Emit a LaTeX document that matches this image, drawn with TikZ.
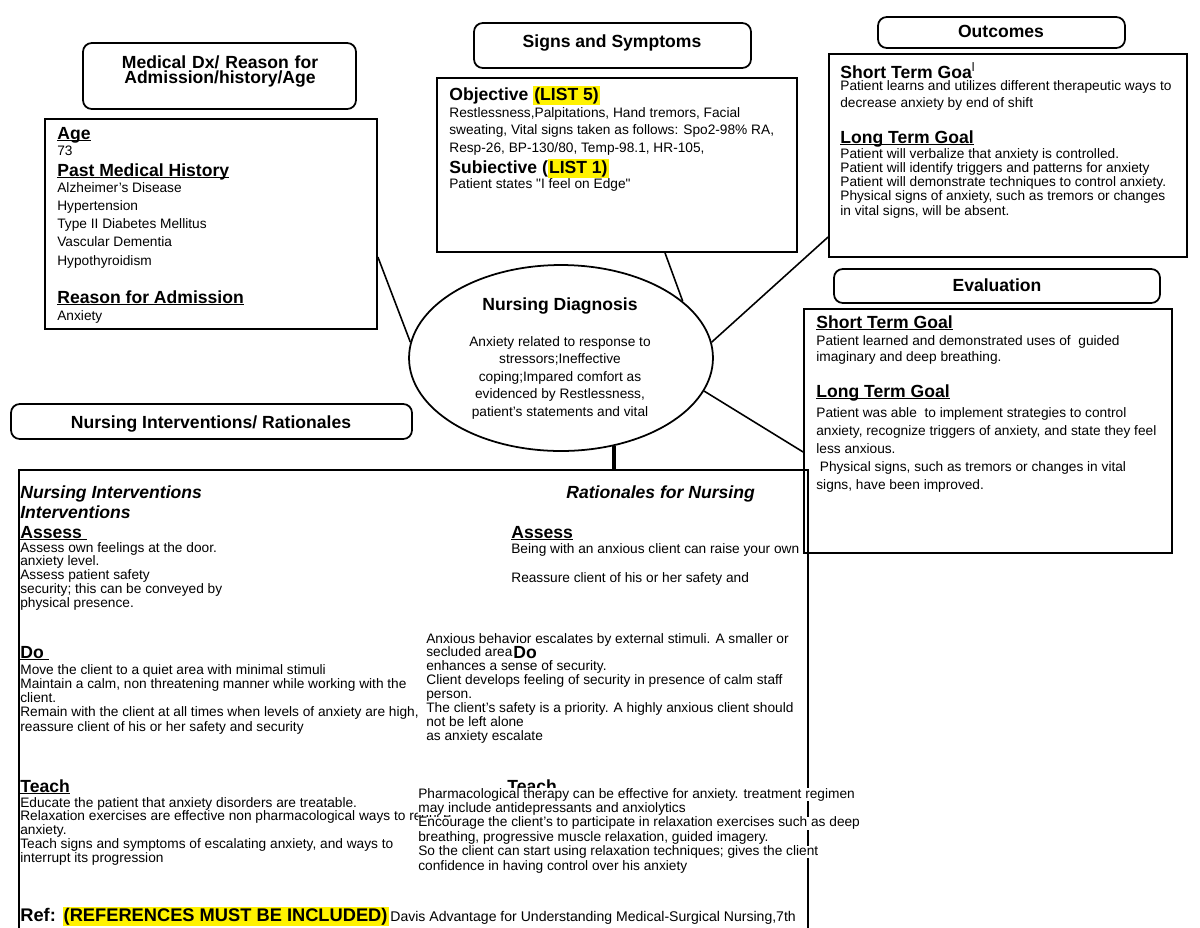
\documentclass[tikz,border=0pt]{standalone}
\usepackage{fontspec}
\setmainfont{Liberation Sans}
\usepackage{xcolor}
\usetikzlibrary{shapes.geometric,fit}
\setlength{\fboxsep}{0.6pt}
\newcommand{\undl}[1]{\setbox0\hbox{#1}\rlap{\rule[-1.4pt]{\wd0}{0.7pt}}\box0}

\begin{document}
\begin{tikzpicture}[
  x=0.02cm, y=-0.02cm,
  hdr/.style={draw, line width=1pt, rounded corners=5pt, inner sep=0pt},
  panel/.style={draw, line width=1pt, inner sep=0pt},
  body/.style={anchor=base west, inner sep=0pt, font=\fontsize{7.8}{9}\selectfont},
  bodyc/.style={body, anchor=base},
  headtxt/.style={anchor=base west, inner sep=0pt, font=\fontsize{10}{10}\selectfont\bfseries},
  headit/.style={headtxt, font=\fontsize{10}{10}\selectfont\bfseries\itshape},
  boxtitle/.style={headtxt, anchor=base},
  wipe/.style={body, fill=white},
  link/.style={line width=0.9pt}
]
\path[use as bounding box, fill=white] (0,0) rectangle (1200,927);

% Boxes.
\node[hdr, fit={(83,43) (356,109)}] (mdxbox) {};
\node[panel, fit={(45,119) (377,329)}] (agebox) {};
\node[hdr, fit={(474,23) (751,68)}] (ssbox) {};
\node[panel, fit={(437,78) (797,252)}] (objbox) {};
\node[hdr, fit={(878,17) (1125,48)}] (outhdr) {};
\node[panel, fit={(829,54) (1187,257)}] (outbox) {};
\node[hdr, fit={(834,269) (1160,303)}] (evalhdr) {};
\node[panel, fit={(804,309) (1172,553)}] (evalbox) {};
\node[hdr, fit={(11,404) (412,439)}] (nirbox) {};
\node[panel, fit={(19,470) (808,990)}] (bigbox) {};
\node[draw, ellipse, line width=1pt, minimum width=6.08cm, minimum height=3.72cm, inner sep=0pt] (diag) at (561,358) {};

% Connectors.
\draw[link] (agebox.east |- 0,257) -- (diag.174);
\draw[link] (objbox.south -| 665,0) -- (diag.25);
\draw[link] (outbox.west |- 0,237) -- (diag.6);
\draw[link] (diag.347) -- (evalbox.west |- 0,452);
\draw[line width=2.3pt] (diag.301) -- (diag.301 |- bigbox.north);

% Box titles.
\node[boxtitle, text width=6cm, align=center, font=\fontsize{10}{8.6}\selectfont\bfseries] (mdxtxt) at (220,68) {Medical Dx/ Reason for\\Admission/history/Age};
\node[boxtitle] (sstxt) at (612,47) {Signs and Symptoms};
\node[boxtitle] (outtxt) at (1001,37) {Outcomes};
\node[boxtitle] (evaltxt) at (997,291) {Evaluation};
\node[boxtitle] (nirtxt) at (211,428) {Nursing Interventions/ Rationales};
\node[boxtitle] (diagtxt) at (560,310) {Nursing Diagnosis};

% Age / history.
\node[headtxt] (agehd) at (57,139) {\undl{Age}};
\node[body] (ageval) at (57,155) {73};
\node[headtxt] (pmhhd) at (57,176) {\undl{Past Medical History}};
\foreach \t [count=\i from 0] in {Alzheimer's Disease, Hypertension, Type II Diabetes Mellitus, Vascular Dementia, Hypothyroidism} {
  \node[body] (pmh\i) at (57,192+18.3*\i) {\t};
}
\node[headtxt] (rfahd) at (57,303) {\undl{Reason for Admission}};
\node[body] (rfa) at (57,320) {Anxiety};

% Signs and symptoms.
\node[headtxt] (objhd) at (449,100) {Objective \colorbox{yellow}{(LIST 5)}};
\foreach \t [count=\i from 0] in {{Restlessness,Palpitations, Hand tremors, Facial}, {sweating, Vital signs taken as follows: Spo2-98\% RA,}, {Resp-26, BP-130/80, Temp-98.1, HR-105,}} {
  \node[body] (obj\i) at (449,117+17.8*\i) {\t};
}
\node[headtxt] (subhd) at (449,173) {Subiective (\colorbox{yellow}{LIST 1)}};
\node[body] (sub0) at (449,188) {Patient states \textquotedbl I feel on Edge\textquotedbl};

% Outcomes.
\node[headtxt] (ostghd) at (840,78) {Short Term Goa\textsuperscript{\mdseries l}};
\foreach \t [count=\i from 0] in {Patient learns and utilizes different therapeutic ways to, decrease anxiety by end of shift} {
  \node[body] (ostg\i) at (840,90+17.5*\i) {\t};
}
\node[headtxt] (oltghd) at (840,143) {\undl{Long Term Goal}};
\foreach \t [count=\i from 0] in {Patient will verbalize that anxiety is controlled., Patient will identify triggers and patterns for anxiety, Patient will demonstrate techniques to control anxiety., {Physical signs of anxiety, such as tremors or changes}, {in vital signs, will be absent.}} {
  \node[body] (oltg\i) at (840,158+14.3*\i) {\t};
}

% Evaluation.
\node[headtxt] (estghd) at (816,328) {\undl{Short Term Goal}};
\foreach \t [count=\i from 0] in {Patient learned and demonstrated uses of~ guided, imaginary and deep breathing.} {
  \node[body] (estg\i) at (816,345+16*\i) {\t};
}
\node[headtxt] (eltghd) at (816,397) {\undl{Long Term Goal}};
\foreach \t [count=\i from 0] in {Patient was able~ to implement strategies to control, {anxiety, recognize triggers of anxiety, and state they feel}, less anxious., {\hspace*{2pt}Physical signs, such as tremors or changes in vital}, {signs, have been improved.}} {
  \node[body] (eltg\i) at (816,417+18*\i) {\t};
}

% Nursing diagnosis.
\foreach \t [count=\i from 0] in {Anxiety related to response to, stressors;Ineffective, coping;Impared comfort as, {evidenced by Restlessness,}, patient's statements and vital} {
  \node[bodyc] (dx\i) at (560,346+17.5*\i) {\t};
}

% Interventions.
\node[headit] (nihd0) at (20,498) {Nursing Interventions};
\node[headit] (nihd1) at (20,518) {Interventions};
\node[headtxt] (iasshd) at (20,538) {\undl{Assess\ }};
\foreach \t [count=\i from 0] in {Assess own feelings at the door., anxiety level., Assess patient safety, security; this can be conveyed by, physical presence.} {
  \node[body] (iass\i) at (20,552+13.8*\i) {\t};
}
\node[headtxt] (idohd) at (20,658) {\undl{Do\ }};
\foreach \t [count=\i from 0] in {Move the client to a quiet area with minimal stimuli, {Maintain a calm, non threatening manner while working with the}, client., {Remain with the client at all times when levels of anxiety are high,}, reassure client of his or her safety and security} {
  \node[body] (ido\i) at (20,674+14.25*\i) {\t};
}
\node[headtxt] (iteachhd) at (20,792) {\undl{Teach}};
\foreach \t [count=\i from 0] in {Educate the patient that anxiety disorders are treatable., Relaxation exercises are effective non pharmacological ways to reduce, anxiety., {Teach signs and symptoms of escalating anxiety, and ways to}, interrupt its progression} {
  \node[body] (iteach\i) at (20,807+13.8*\i) {\t};
}

% Rationales.
\node[headit] (rathd) at (566,498) {Rationales for Nursing};
\node[headtxt] (rasshd) at (511,538) {\undl{Assess}};
\node[body] (rass0) at (511,553) {Being with an anxious client can raise your own};
\node[body] (rass1) at (511,582) {Reassure client of his or her safety and};
\foreach \t [count=\i from 0] in {Anxious behavior escalates by external stimuli. A smaller or, secluded area, enhances a sense of security., Client develops feeling of security in presence of calm staff, person., The client's safety is a priority. A highly anxious client should, not be left alone, as anxiety escalate} {
  \node[body] (rdo\i) at (426,643+13.9*\i) {\t};
}
\node[headtxt] (rdohd) at (513,658) {Do};
\node[headtxt] (rteachhd) at (507,792) {Teach};
\foreach \t [count=\i from 0] in {Pharmacological therapy can be effective for anxiety. treatment regimen, may include antidepressants and anxiolytics, Encourage the client's to participate in relaxation exercises such as deep, {breathing, progressive muscle relaxation, guided imagery.}, So the client can start using relaxation techniques; gives the client, confidence in having control over his anxiety} {
  \node[wipe] (rteach\i) at (418,798+14.4*\i) {\t};
}

% Reference.
\node[headtxt, font=\fontsize{10.4}{10}\selectfont\bfseries] (refhd) at (20,921) {Ref: \colorbox{yellow}{(REFERENCES MUST BE INCLUDED)}};
\node[body, font=\fontsize{8}{9}\selectfont] (refsrc) at (390,921) {Davis Advantage for Understanding Medical-Surgical Nursing,7th};
\end{tikzpicture}
\end{document}
